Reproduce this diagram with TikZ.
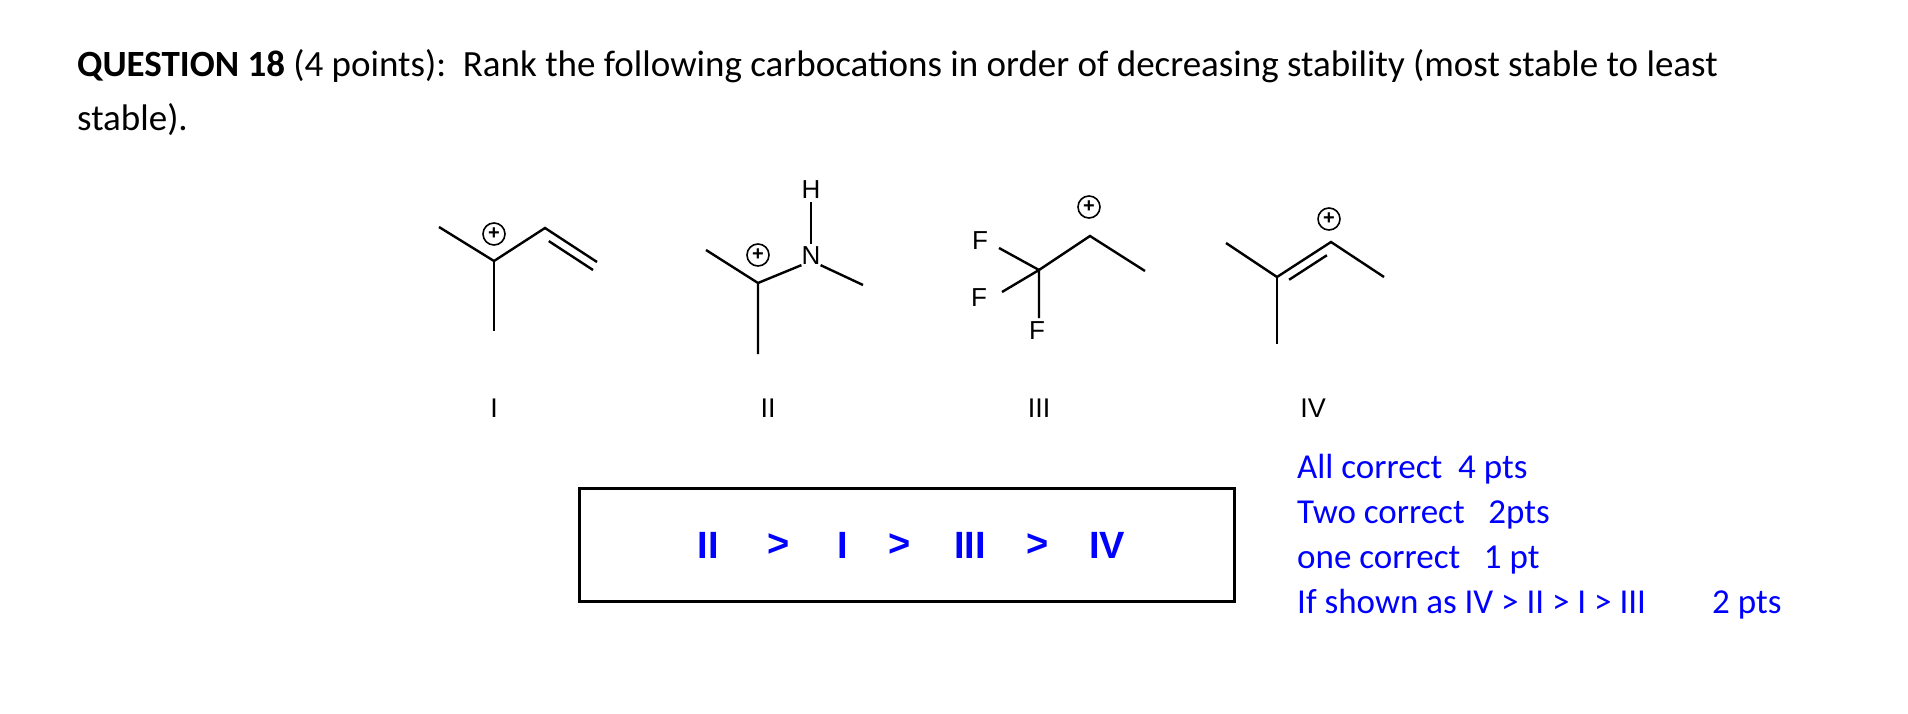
\documentclass[tikz,border=0pt]{standalone}
\usepackage{fontspec}
\usetikzlibrary{calc}
\setmainfont{Carlito}
\newfontfamily\arialf{Liberation Sans}
\begin{document}
\begin{tikzpicture}[x=1pt,y=-1pt,
  bond/.style={line width=2.4pt},
  atom/.style={font=\arialf\fontsize{26}{26}\selectfont, inner sep=0pt},
  lbl/.style={font=\arialf\fontsize{27}{27}\selectfont, inner sep=0pt},
  pc/.style={circle,draw,line width=1.6pt,minimum size=22pt,inner sep=0pt,font=\arialf\bfseries\fontsize{20}{20}\selectfont},
  qtxt/.style={font=\fontsize{37}{40}\selectfont, anchor=base west, inner sep=0pt},
  btxt/.style={font=\fontsize{35}{40}\selectfont, anchor=base west, inner sep=0pt, text=blue},
  rk/.style={font=\arialf\bfseries\fontsize{38}{38}\selectfont, text=blue, inner sep=0pt}]
\useasboundingbox (0,0) rectangle (1908,714);
\fill[white] (0,0) rectangle (1908,714);
\node[qtxt] (q1) at (77,77) {\textbf{QUESTION 18} (4 points):\ \ Rank the following carbocations in order of decreasing stability (most stable to least};
\node[qtxt] (q2) at (77,131) {stable).};
% I
\coordinate (a1) at (439,227); \coordinate (a2) at (494,261); \coordinate (a3) at (494,331);
\coordinate (a4) at (545,228); \coordinate (a5) at (597,262);
\draw[bond] (a1)--(a2)--(a4)--(a5); \draw[bond] (a2)--(a3);
\draw[bond] ($(a4)!0.15!(a5)+(-4,8)$) -- ($(a5)+(-4,8)$);
\node[pc] (p1) at (494,234) {+};
% II
\coordinate (b1) at (706,250); \coordinate (b2) at (758,283); \coordinate (b3) at (758,354);
\node[atom] (N) at (811,256) {N};
\node[atom] (H) at (811,190) {H};
\coordinate (b4) at (863,285);
\draw[bond] (b1)--(b2)--(b3); \draw[bond] (b2)--(N.south west);
\draw[bond] (H.south)++(0,3)--($(N.north)+(0,-3)$); \draw[bond] (N.south east)--(b4);
\node[pc] (p2) at (758,255) {+};
% III
\coordinate (c1) at (1039,270); \coordinate (c2) at (1090,236); \coordinate (c3) at (1145,271);
\node[atom] (F1) at (980,241) {F}; \node[atom] (F2) at (979,298) {F}; \node[atom] (F3) at (1037,331) {F};
\draw[bond] (999,248)--(c1)--(c2)--(c3); \draw[bond] (1002,292)--(c1)--(1039,318);
\node[pc] (p3) at (1089,207) {+};
% IV
\coordinate (d1) at (1226,243); \coordinate (d2) at (1277,277); \coordinate (d3) at (1277,344);
\coordinate (d4) at (1331,242); \coordinate (d5) at (1384,277);
\draw[bond] (d1)--(d2)--(d4)--(d5); \draw[bond] (d2)--(d3);
\draw[bond] ($(d2)!0.15!(d4)+(4,8)$) -- ($(d2)!0.85!(d4)+(4,8)$);
\node[pc] (p4) at (1329,219) {+};
% labels
\node[lbl] (l1) at (494,408) {I};
\node[lbl] (l2) at (768,408) {II};
\node[lbl] (l3) at (1039,408) {III};
\node[lbl] (l4) at (1313,408) {IV};
% box
\node[draw, line width=3pt, minimum width=655pt, minimum height=113pt] (box) at (907,545) {};
\node[rk] (r1) at (708,545) {II};
\node[rk] (r2) at (779,545) {>};
\node[rk] (r3) at (843,545) {I};
\node[rk] (r4) at (900,545) {>};
\node[rk] (r5) at (970,545) {III};
\node[rk] (r6) at (1038,545) {>};
\node[rk] (r7) at (1107,545) {IV};
% notes
\node[btxt] (n1) at (1297,478) {All correct\ \ 4 pts};
\node[btxt] (n2) at (1297,523) {Two correct\ \ \ 2pts};
\node[btxt] (n3) at (1297,568) {one correct\ \ \ 1 pt};
\node[btxt] (n4) at (1297,613) {If shown as IV > II > I > III};
\node[btxt] (n5) at (1712,613) {2 pts};
\end{tikzpicture}
\end{document}
